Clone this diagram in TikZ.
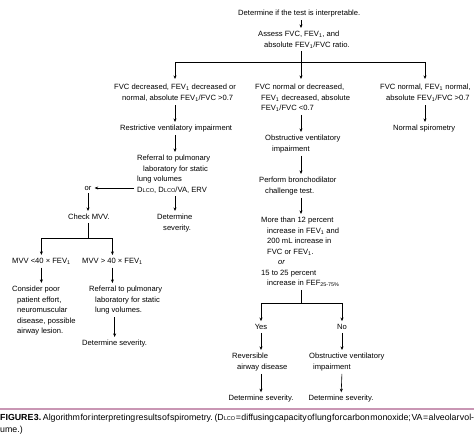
\documentclass[tikz,border=0pt]{standalone}
\usepackage{fontspec}
\setmainfont{Liberation Sans}
\usetikzlibrary{arrows.meta}
\definecolor{rulepink}{RGB}{201,150,180}
\newcommand{\fev}{FEV\textsubscript{1}}
\newcommand{\dlco}{D{\fontsize{5.6}{6}\selectfont LCO}}
\newcommand{\ind}[1]{\hspace*{#1pt}}

\begin{document}
\begin{tikzpicture}[x=1pt,y=-1pt,
  txt/.style={anchor=north west,inner sep=0pt,align=left,font=\fontsize{7.6}{10.5}\selectfont},
  lbl/.style={inner sep=0pt,font=\fontsize{7.6}{10.5}\selectfont},
  ln/.style={draw,line width=0.6pt},
  arr/.style={ln,-{Stealth[length=3.6pt,width=3pt]},shorten <=3pt,shorten >=3pt}]
  \useasboundingbox (0,0) rectangle (474,436);

  \coordinate (cL) at (175,0);
  \coordinate (cM) at (301,0);
  \coordinate (cR) at (425,0);
  \coordinate (split1) at (301,62);
  \coordinate (split2) at (88,238);
  \coordinate (split3) at (301,303);

  \node[txt] (top) at (238,10) {Determine if the test is interpretable.};
  \node[txt] (assess) at (258,31) {Assess FVC, \fev, and\\\ind{6}absolute \fev/FVC ratio.};
  \node[txt] (rdec) at (114,84) {FVC decreased, \fev{} decreased or\\\ind{8}normal, absolute \fev/FVC >0.7};
  \node[txt] (obsc) at (255,84) {FVC normal or decreased,\\\ind{6}\fev{} decreased, absolute\\\ind{6}\fev/FVC <0.7};
  \node[txt] (normc) at (380,84) {FVC normal, \fev{} normal,\\\ind{6}absolute \fev/FVC >0.7};
  \node[txt] (restrict) at (120,125) {Restrictive ventilatory impairment};
  \node[txt] (referral) at (137,155) {Referral to pulmonary\\\ind{6}laboratory for static\\lung volumes\\\dlco, \dlco/VA, ERV};
  \node[lbl] (orN) at (88,188) {or};
  \node[txt] (check) at (68,214) {Check MVV.};
  \node[txt] (sevA) at (157,214) {Determine\\\ind{6}severity.};
  \node[txt] (mvvlow) at (12,258) {MVV <40 × \fev};
  \node[txt] (mvvhigh) at (82,258) {MVV > 40 × \fev};
  \node[txt] (consider) at (12,286) {Consider poor\\\ind{5}patient effort,\\\ind{5}neuromuscular\\\ind{5}disease, possible\\\ind{5}airway lesion.};
  \node[txt] (referral2) at (89,286) {Referral to pulmonary\\\ind{6}laboratory for static\\\ind{6}lung volumes.};
  \node[txt] (sevB) at (82,340) {Determine severity.};
  \node[txt] (obsimp) at (265,135) {Obstructive ventilatory\\\ind{7}impairment};
  \node[txt] (bronch) at (259,177) {Perform bronchodilator\\\ind{6}challenge test.};
  \node[txt] (criteria) at (261,217) {More than 12 percent\\\ind{6}increase in \fev{} and\\\ind{6}200 mL increase in\\\ind{6}FVC or \fev.\\\ind{17}\textit{or}\\15 to 25 percent\\\ind{6}increase in FEF\textsubscript{25-75\%}};
  \node[lbl] (yes) at (261,327) {Yes};
  \node[lbl] (no) at (342,327) {No};
  \node[txt] (revers) at (232,353) {Reversible\\\ind{5}airway disease};
  \node[txt] (obs2) at (309,353) {Obstructive ventilatory\\\ind{4}impairment};
  \node[lbl] (sevC) at (261,399) {Determine severity.};
  \node[lbl] (sevD) at (341,399) {Determine severity.};
  \node[txt] (normal) at (393,125) {Normal spirometry};

  \draw[arr] (top.south -| cM) -- (assess.north -| cM);
  \draw[ln,shorten <=3pt] (assess.south -| cM) -- (split1);
  \draw[arr,shorten <=0pt,shorten >=5pt] (split1) -| (rdec.north -| cL);
  \draw[arr,shorten <=0pt,shorten >=5pt] (split1) -- (obsc.north -| cM);
  \draw[arr,shorten <=0pt,shorten >=5pt] (split1) -| (normc.north -| cR);
  \draw[arr,shorten <=4pt] (rdec.south -| cL) -- (restrict.north -| cL);
  \draw[arr] (restrict.south -| cL) -- (referral.north -| cL);
  \draw[arr] (referral.south -| cL) -- (sevA.north -| cL);
  \draw[arr] (orN -| referral.west) -- (orN.east);
  \draw[arr] (orN.south) -- (check.north -| orN);
  \draw[ln,shorten <=3pt] (check.south -| split2) -- (split2);
  \draw[arr,shorten <=0pt] (split2) -| (mvvlow);
  \draw[arr,shorten <=0pt] (split2) -| (mvvhigh);
  \draw[arr] (mvvlow) -- (consider.north -| mvvlow);
  \draw[arr] (mvvhigh) -- (referral2.north -| mvvhigh);
  \draw[arr] (referral2.south -| sevB) -- (sevB);
  \draw[arr] (obsc.south -| cM) -- (obsimp.north -| cM);
  \draw[arr] (obsimp.south -| cM) -- (bronch.north -| cM);
  \draw[arr] (bronch.south -| cM) -- (criteria.north -| cM);
  \draw[ln,shorten <=3pt] (criteria.south -| cM) -- (split3);
  \draw[arr,shorten <=0pt] (split3) -| (yes);
  \draw[arr,shorten <=0pt] (split3) -| (no);
  \draw[arr] (yes) -- (revers.north -| yes);
  \draw[arr] (no) -- (obs2.north -| no);
  \draw[arr] (revers.south -| yes) -- (sevC);
  \draw[arr] (obs2.south -| no) -- (sevD);
  \draw[arr,shorten <=4pt] (normc.south -| cR) -- (normal.north -| cR);

  \draw[line width=2.5pt,rulepink] (0,409) -- (474,409);
  \node[anchor=north west,inner sep=0pt,align=left,font=\fontsize{8.8}{11.5}\selectfont] (caption) at (0,414)
    {{\spaceskip=0.3pt plus 10pt minus 0.3pt\makebox[474pt][s]{\textbf{FIGURE 3.} Algorithm for interpreting results of spirometry. (\dlco{} = diffusing capacity of lung for carbon monoxide; VA = alveolar vol-}}\\ume.)};
\end{tikzpicture}
\end{document}
